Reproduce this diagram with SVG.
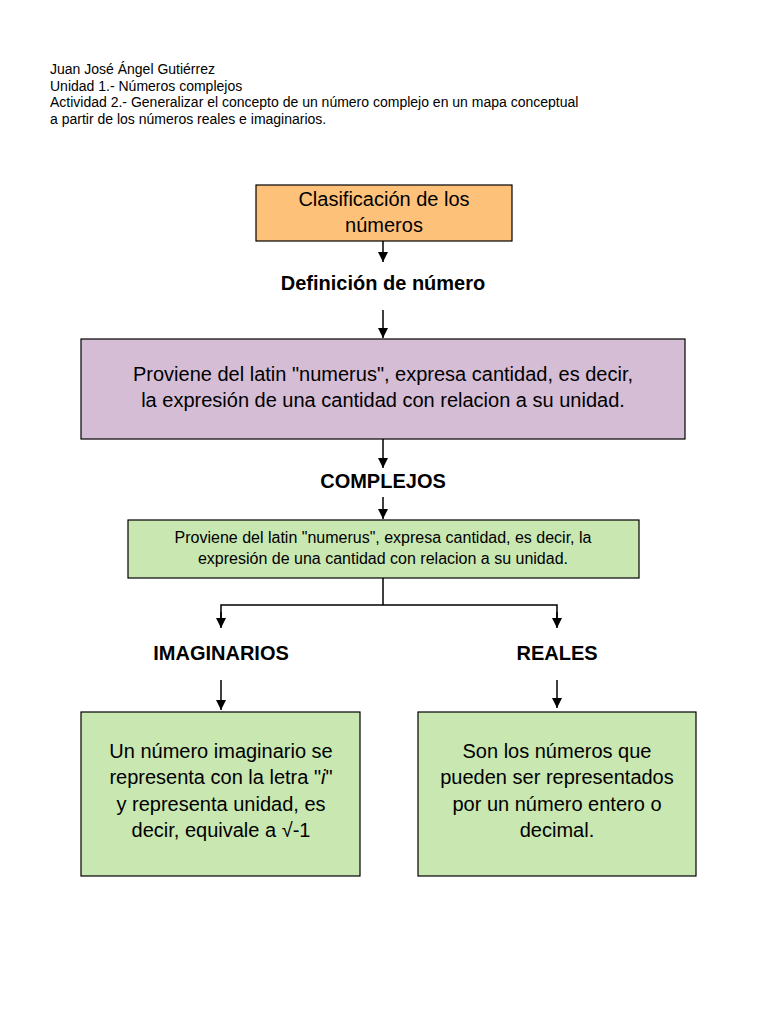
<svg xmlns="http://www.w3.org/2000/svg" width="768" height="1024" viewBox="0 0 768 1024">
<defs>
<marker id="ah" viewBox="0 0 10 10" refX="10" refY="5" markerWidth="7" markerHeight="7" orient="auto"><path d="M0,0 L10,5 L0,10 z" fill="#000"/></marker>
<style>
text{font-family:"Liberation Sans",Arial,sans-serif;fill:#000}
.h{font-size:14px}
.t20{font-size:20px;text-anchor:middle}
.t16{font-size:16px;text-anchor:middle}
.b{font-size:20px;font-weight:bold;text-anchor:middle}
.box{stroke:#000;stroke-width:1.2}
.c{stroke:#000;stroke-width:1.5;fill:none}
</style>
</defs>
<rect width="768" height="1024" fill="#fff"/>
<g id="header">
<text class="h" x="50" y="74">Juan José Ángel Gutiérrez</text>
<text class="h" x="50" y="91">Unidad 1.-  Números complejos</text>
<text class="h" x="50" y="107">Actividad 2.- Generalizar el concepto de un número complejo en un mapa conceptual</text>
<text class="h" x="50" y="124">a partir de los números reales e imaginarios.</text>
</g>
<g id="connectors">
<line class="c" x1="383" y1="241" x2="383" y2="262" marker-end="url(#ah)"/>
<line class="c" x1="383" y1="310" x2="383" y2="338" marker-end="url(#ah)"/>
<line class="c" x1="383" y1="439" x2="383" y2="468" marker-end="url(#ah)"/>
<line class="c" x1="383" y1="497" x2="383" y2="519" marker-end="url(#ah)"/>
<polyline class="c" points="383,578 383,605"/>
<polyline class="c" points="221,627 221,605 557,605 557,627"/>
<line class="c" x1="221" y1="612" x2="221" y2="628" marker-end="url(#ah)"/>
<line class="c" x1="557" y1="612" x2="557" y2="628" marker-end="url(#ah)"/>
<line class="c" x1="221" y1="680" x2="221" y2="710" marker-end="url(#ah)"/>
<line class="c" x1="557" y1="680" x2="557" y2="708" stroke-width="2" marker-end="url(#ah)"/>
</g>
<g id="n1"><rect class="box" x="256" y="185" width="256" height="56" fill="#fec17a" stroke-width="2"/>
<text class="t20" x="384" y="206">Clasificación de los</text><text class="t20" x="384" y="232">números</text></g>
<g id="n2"><text class="b" x="383" y="290">Definición de número</text></g>
<g id="n3"><rect class="box" x="81" y="339" width="604" height="100" fill="#d5bdd5"/>
<text class="t20" x="383" y="381">Proviene del latin "numerus", expresa cantidad, es decir,</text>
<text class="t20" x="383" y="407">la expresión de una cantidad con relacion a su unidad.</text></g>
<g id="n4"><text class="b" x="383" y="488">COMPLEJOS</text></g>
<g id="n5"><rect class="box" x="128" y="520" width="511" height="58" fill="#c9e7b1"/>
<text class="t16" x="383" y="543">Proviene del latin "numerus", expresa cantidad, es decir, la</text>
<text class="t16" x="383" y="564">expresión de una cantidad con relacion a su unidad.</text></g>
<g id="n6"><text class="b" x="221" y="660">IMAGINARIOS</text></g>
<g id="n7"><text class="b" x="557" y="660">REALES</text></g>
<g id="n8"><rect class="box" x="81" y="712" width="279" height="164" fill="#c9e7b1"/>
<text class="t20" x="221" y="758">Un número imaginario se</text>
<text class="t20" x="221" y="784">representa con la letra "<tspan font-style="italic">i</tspan>"</text>
<text class="t20" x="221" y="811">y representa unidad, es</text>
<text class="t20" x="221" y="837">decir, equivale a √-1</text></g>
<g id="n9"><rect class="box" x="418" y="712" width="278" height="164" fill="#c9e7b1"/>
<text class="t20" x="557" y="758">Son los números que</text>
<text class="t20" x="557" y="784">pueden ser representados</text>
<text class="t20" x="557" y="811">por un número entero o</text>
<text class="t20" x="557" y="837">decimal.</text></g>
</svg>
